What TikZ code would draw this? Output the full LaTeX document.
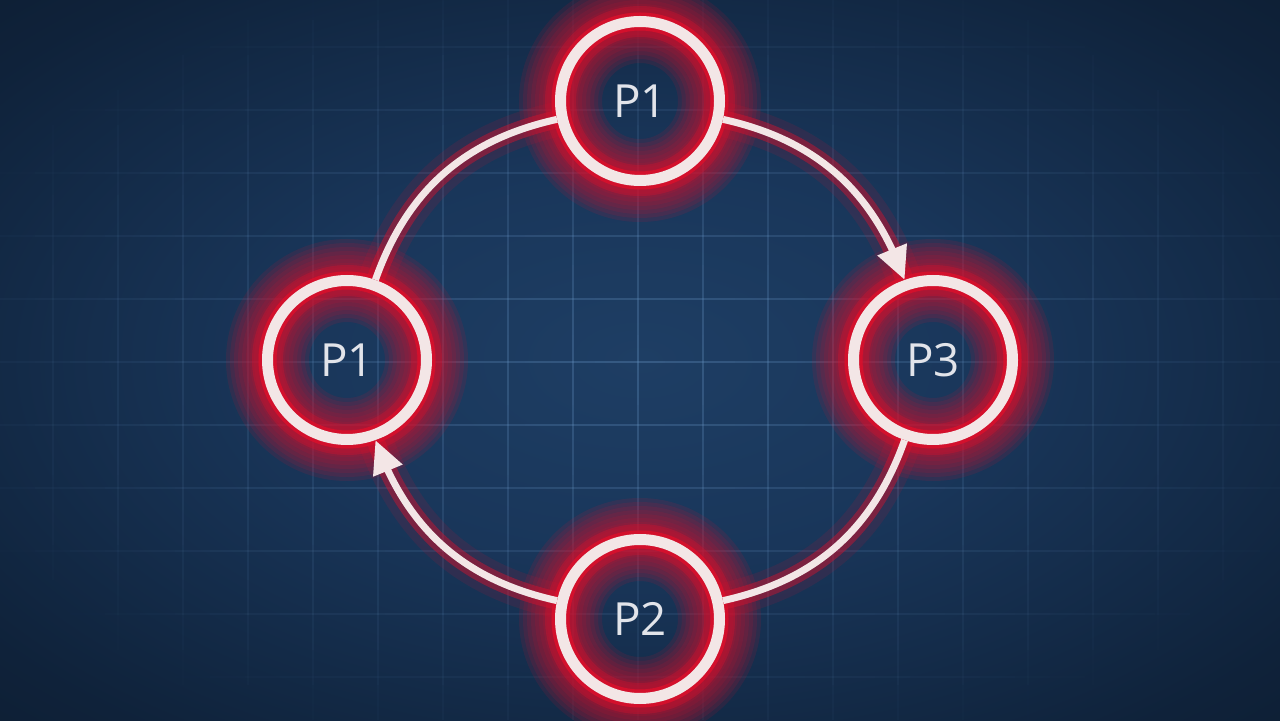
\documentclass[tikz,border=0pt]{standalone}
\usepackage{fontspec}
\newfontfamily\labelfont{Open Sans}
\usetikzlibrary{positioning, arrows.meta, bending}

\definecolor{bgcenter}{HTML}{1E3E64}
\definecolor{bgmid}{HTML}{19365A}
\definecolor{bgedge}{HTML}{0F223A}
\definecolor{bgcorner}{HTML}{0A1624}
\definecolor{gridblue}{HTML}{6A98C8}
\definecolor{glowred}{HTML}{D8102C}
\definecolor{ringwhite}{HTML}{F3E6E6}
\definecolor{labelgrey}{HTML}{E2E4EA}

\pgfdeclarelayer{bg}
\pgfdeclarelayer{glow}
\pgfsetlayers{bg,glow,main}

\pgfdeclareradialshading{backdrop}{\pgfpointorigin}{color(0bp)=(bgcenter); color(14bp)=(bgmid); color(32bp)=(bgedge); color(50bp)=(bgcorner)}

\tikzset{on grid, % Centre to centre distances
proc/.style={ % Sets the properties for each process ring
circle, draw=ringwhite, line width=0.22cm,
minimum size=3.18cm, inner sep=0pt,
text=labelgrey, font=\labelfont\fontsize{26}{28}\selectfont},
gridline/.style={draw=gridblue, line width=0.6pt},
>={Triangle[length=0.66cm, width=0.6cm]}, % Big filled arrowheads
every edge/.style={ % Sets the properties for each connector
draw=ringwhite, line width=0.14cm, bend left=29,
preaction={draw=glowred, line width=0.7cm, opacity=0.12, arrows=-},
preaction={draw=glowred, line width=0.36cm, opacity=0.45, arrows=-}}}

\begin{document}
\begin{tikzpicture}
    \useasboundingbox (0,0) rectangle (25.6,14.4);
    \begin{pgfonlayer}{bg}
    \shade[shading=backdrop] (0,0) rectangle (25.6,14.4);
    \foreach \i in {0,...,18} \foreach \s in {0,...,20} {
        \pgfmathsetmacro\gx{1.06+1.3*\i}
        \pgfmathsetmacro\gy{0.35+0.7*\s}
        \pgfmathsetmacro\op{0.32*max(0,1-sqrt(((\gx-12.8)/12.8)^2+((\gy-7.2)/7.2)^2)/1.15)}
        \draw[gridline, opacity=\op] (\gx,\gy-0.35) -- ++(0,0.7);
    }
    \foreach \j in {0,...,10} \foreach \s in {0,...,36} {
        \pgfmathsetmacro\gy{0.86+1.26*\j}
        \pgfmathsetmacro\gx{0.35+0.7*\s}
        \pgfmathsetmacro\op{0.32*max(0,1-sqrt(((\gx-12.8)/12.8)^2+((\gy-7.2)/7.2)^2)/1.15)}
        \draw[gridline, opacity=\op] (\gx-0.35,\gy) -- ++(0.7,0);
    }
    \end{pgfonlayer}

    \node[proc] (p1left) at (6.94,7.2) {P1};
    \node[proc, above right=5.18cm and 5.86cm of p1left] (p1top) {P1};
    \node[proc, right=11.72cm of p1left] (p3) {P3};
    \node[proc, below right=5.18cm and 5.86cm of p1left] (p2) {P2};

    \begin{pgfonlayer}{glow}
    \foreach \n in {p1top, p1left, p3, p2} {
        \foreach \k in {1,...,9}
            \draw[glowred, opacity=0.12, line width=0.22cm+\k*0.16cm] (\n.center) circle[radius=1.59cm];
        \draw[glowred, opacity=0.35, line width=0.62cm] (\n.center) circle[radius=1.59cm];
        \draw[glowred, opacity=0.9, line width=0.36cm] (\n.center) circle[radius=1.59cm];
    }
    \end{pgfonlayer}

    \draw (p1left) edge (p1top);
    \draw (p1top) edge[->] (p3);
    \draw (p3) edge (p2);
    \draw (p2) edge[->] (p1left);
\end{tikzpicture}
\end{document}
